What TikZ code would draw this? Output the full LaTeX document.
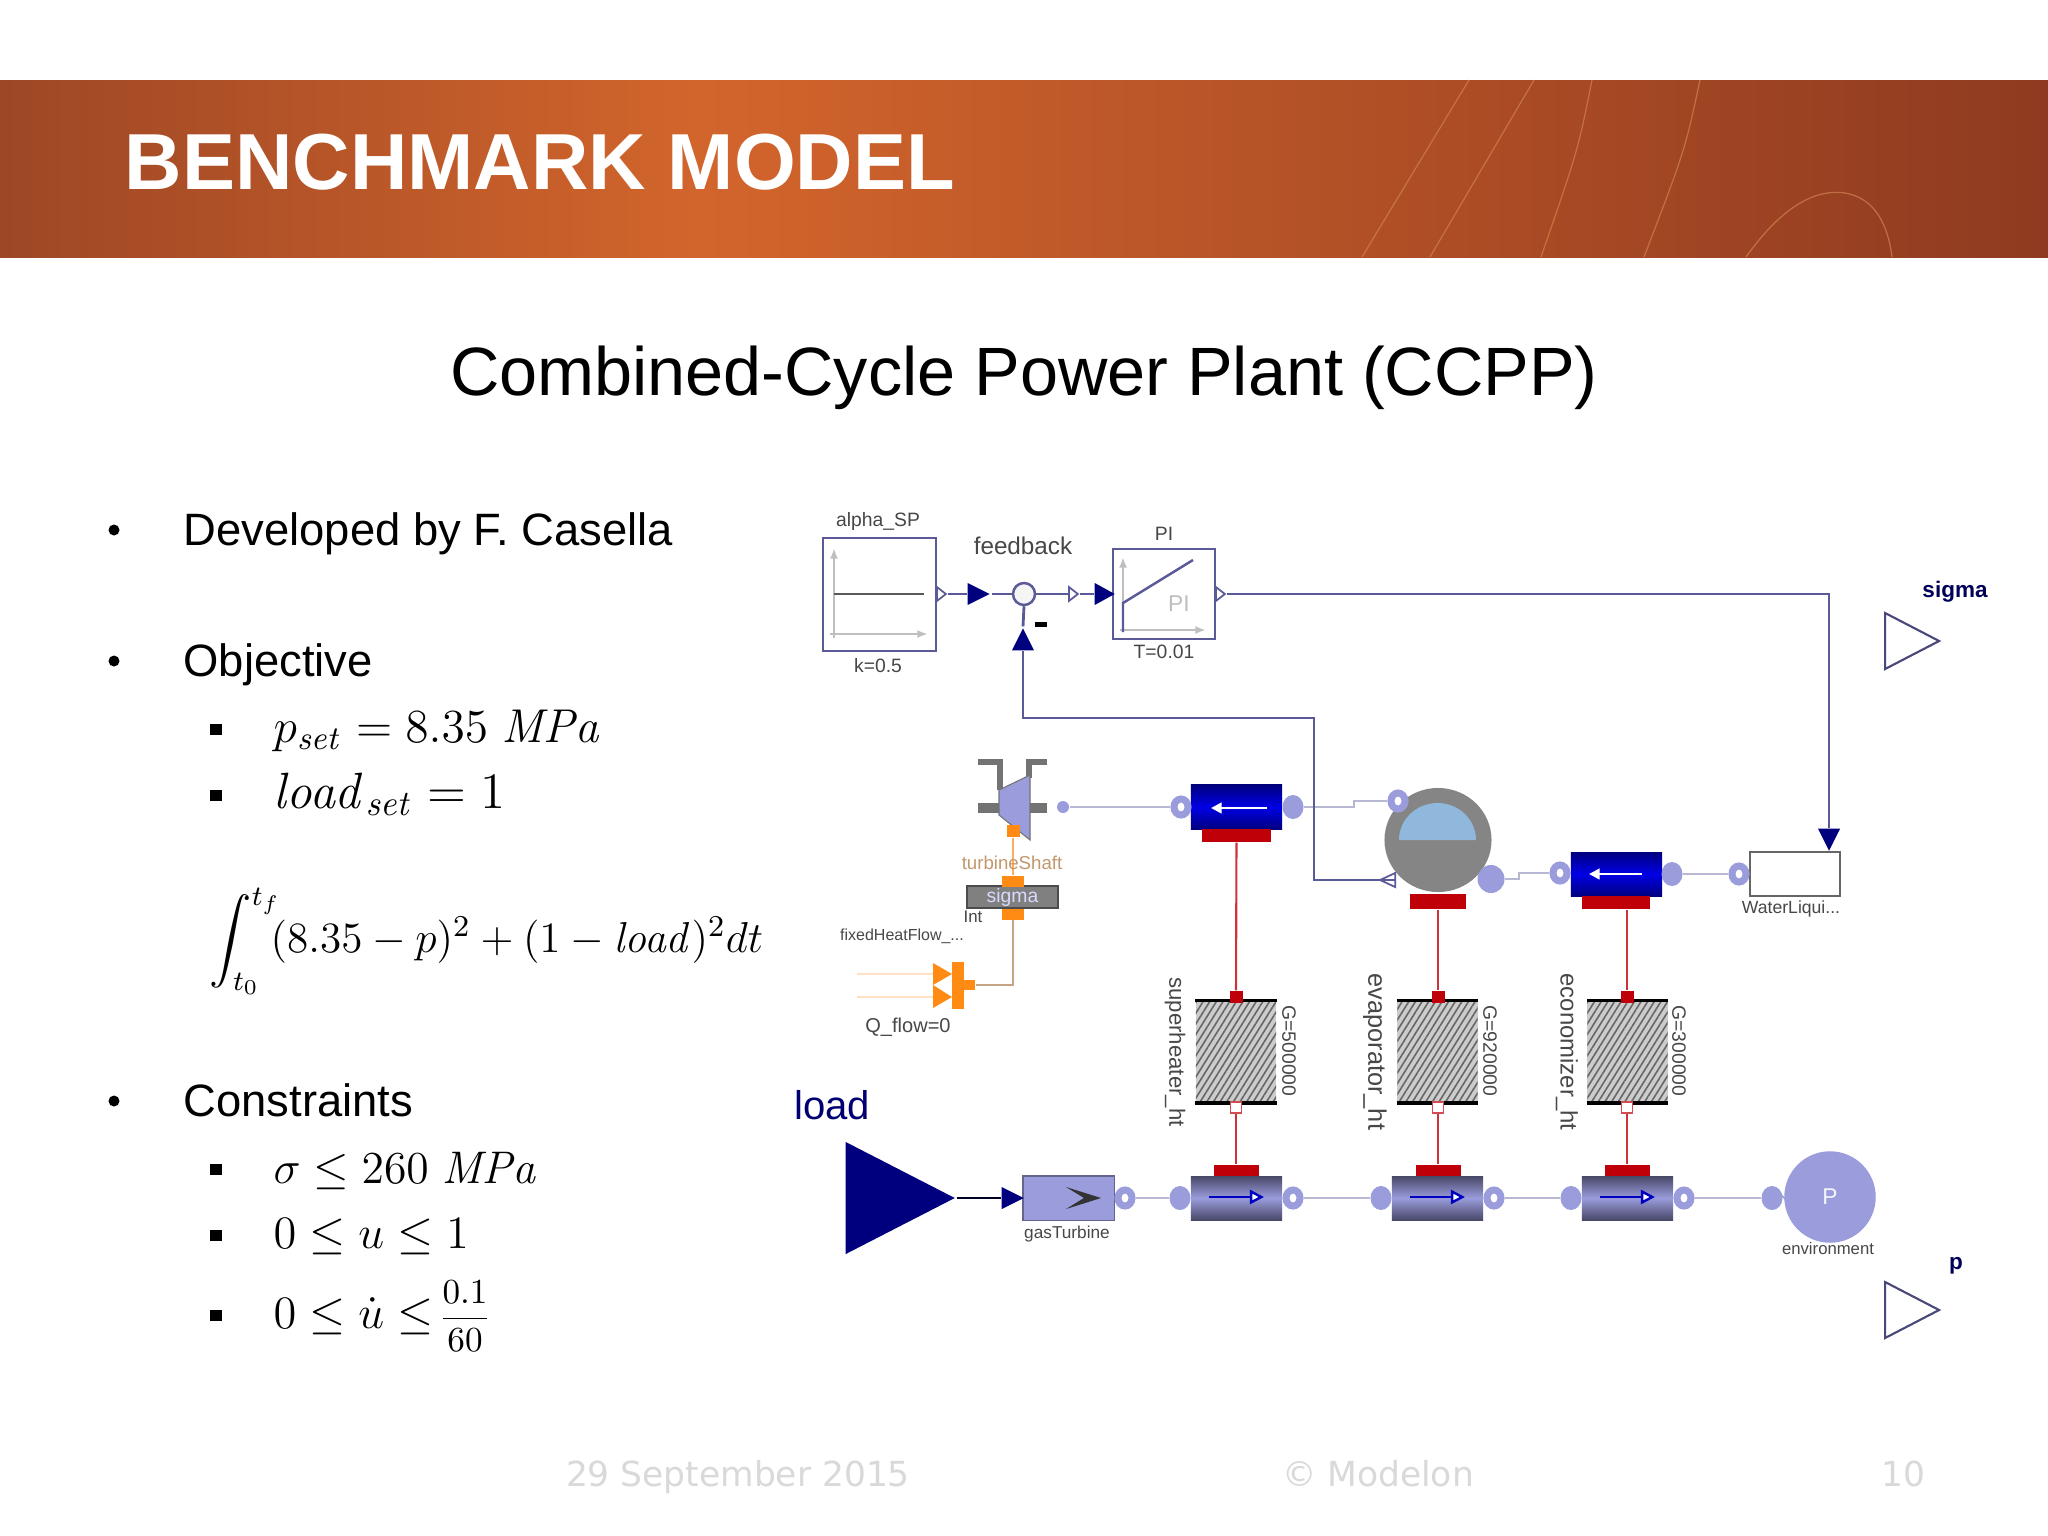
\documentclass[tikz,border=0pt]{standalone}
\usepackage{fix-cm}
\usepackage[no-math]{fontspec}
\usepackage{amsmath,amssymb}
\setmainfont{Liberation Sans}
\newfontfamily\footfont{DejaVu Sans}
\usetikzlibrary{positioning, calc, arrows.meta, shapes.geometric, patterns.meta}

\definecolor{bannerEdge}{HTML}{9E4725}
\definecolor{bannerMid}{HTML}{D2652C}
\definecolor{bannerEnd}{HTML}{8F3A20}
\definecolor{bannerLine}{HTML}{CE7E50}
\definecolor{navy}{HTML}{00007F}
\definecolor{portBlue}{HTML}{9A9CDC}
\definecolor{pipeEdge}{HTML}{484868}
\definecolor{wireBlue}{HTML}{5A5A98}
\definecolor{fluidLine}{HTML}{B8B8D4}
\definecolor{heatRed}{HTML}{C00008}
\definecolor{hotOrange}{HTML}{FF8A14}
\definecolor{footGrey}{HTML}{D9D9D9}
\definecolor{drumWater}{HTML}{90B8DC}

\newcommand{\fs}[1]{\fontsize{#1}{#1}\selectfont}

\tikzset{
    tag/.style={inner sep=0pt, text=black!72, font=\fs{5.5}},
    dotbullet/.style={circle, fill=black, inner sep=0pt, minimum size=0.11cm},
    sqbullet/.style={rectangle, fill=black, inner sep=0pt, minimum size=0.11cm},
    bodytext/.style={anchor=base west, inner sep=0pt, font=\fs{12.9}},
    mathtext/.style={anchor=base west, inner sep=0pt},
    footer/.style={anchor=base, inner sep=0pt, text=footGrey, font=\footfont\fs{9.8}},
    bannerarc/.style={bannerLine, line width=0.35pt, opacity=0.75},
    tri/.style={isosceles triangle, isosceles triangle stretches, inner sep=0pt, anchor=lower side},
    intri/.style={tri, fill=navy, minimum width=0.22cm, minimum height=0.22cm},
    outtri/.style={tri, draw=wireBlue, fill=white, line width=0.5pt, minimum width=0.14cm, minimum height=0.09cm},
    bigtri/.style={tri, draw=wireBlue!80!black, fill=white, line width=0.6pt, minimum width=0.56cm, minimum height=0.54cm},
    blockbox/.style={rectangle, draw=wireBlue, fill=white, line width=0.7pt, inner sep=0pt},
    wire/.style={wireBlue, line width=0.8pt},
    fluid/.style={fluidLine, line width=0.7pt},
    redwire/.style={heatRed!80, line width=0.6pt},
    portfull/.style={ellipse, fill=portBlue, inner sep=0pt, minimum width=0.21cm, minimum height=0.24cm},
    portring/.style={ellipse, draw=portBlue, fill=white, line width=2pt, inner sep=0pt, minimum width=0.14cm, minimum height=0.16cm},
    hxblue/.style={rectangle, inner sep=0pt, top color=navy, bottom color=navy, middle color=blue!90!black, minimum width=0.91cm, minimum height=0.44cm},
    pipe/.style={rectangle, inner sep=0pt, top color=pipeEdge, bottom color=pipeEdge, middle color=portBlue, minimum width=0.91cm, minimum height=0.44cm},
    redblock/.style={rectangle, fill=heatRed, inner sep=0pt},
    orangeport/.style={rectangle, fill=hotOrange, inner sep=0pt},
    wall/.style={rectangle, inner sep=0pt, fill=black!20, minimum width=0.80cm, minimum height=1.01cm,
        postaction={pattern={Lines[angle=58, distance=1.6pt, line width=0.45pt]}, pattern color=black!60}},
}

\begin{document}
\begin{tikzpicture}[x=0.01cm, y=-0.01cm]
    \useasboundingbox (0,0) rectangle (2048,1536);
    \fill[white] (0,0) rectangle (2048,1536);

    % ---------------- BANNER ----------------
    \shade[left color=bannerEdge, right color=bannerMid] (0,80) rectangle (700,257);
    \shade[left color=bannerMid, right color=bannerEnd] (700,80) rectangle (2048,257);
    \draw[bannerarc] (1469,80) -- (1362,257);
    \draw[bannerarc] (1534,80) -- (1430,257);
    \draw[bannerarc] (1592,80) .. controls (1578,150) .. (1541,257);
    \draw[bannerarc] (1700,80) .. controls (1685,150) .. (1644,257);
    \draw[bannerarc] (1746,257) .. controls (1790,195) and (1825,190) .. (1845,193) .. controls (1875,198) and (1888,225) .. (1892,257);
    \node[inner sep=0pt, text=white, font=\fs{22.6}\bfseries] (title) at (540,162) {BENCHMARK MODEL};
    \node[inner sep=0pt, font=\fs{19.45}] (subtitle) at (1024,378) {Combined-Cycle Power Plant (CCPP)};

    % ---------------- LEFT TEXT ----------------
    \node[dotbullet] (b1) at (114,530) {}; \node[bodytext] (t1) at (183,545) {Developed by F. Casella};
    \node[dotbullet] (b2) at (114,661) {}; \node[bodytext] (t2) at (183,676) {Objective};
    \node[dotbullet] (b3) at (114,1101) {}; \node[bodytext] (t3) at (183,1116) {Constraints};

    \node[sqbullet] (s1) at (216,729) {}; \node[mathtext, font=\fs{13.5}] (m1) at (273,742) {$p_{\mathit{set}} = 8.35\ \mathit{MPa}$};
    \node[sqbullet] (s2) at (216,795) {}; \node[mathtext, font=\fs{14.5}] (m2) at (273,808) {$\mathit{load}_{\mathit{set}} = 1$};
    \node[sqbullet] (s3) at (216,1169) {}; \node[mathtext, font=\fs{13}] (m3) at (273,1183) {$\sigma \leq 260\ \mathit{MPa}$};
    \node[sqbullet] (s4) at (216,1235) {}; \node[mathtext, font=\fs{13.2}] (m4) at (273,1248) {$0 \leq u \leq 1$};
    \node[sqbullet] (s5) at (216,1315) {}; \node[mathtext, font=\fs{13.2}] (m5) at (273,1328) {$0 \leq \dot{u} \leq$};
    \node[inner sep=0pt, font=\fs{10}] (m5frac) at (465,1316) {$\dfrac{0.1}{60}$};
    \node[mathtext, font=\fs{12}] (m6sign) at (209,952) {$\displaystyle\int_{t_0}^{t_f}$};
    \node[mathtext, font=\fs{12.3}] (m6) at (270,952) {$(8.35 - p)^2 + (1 - \mathit{load})^2 dt$};

    % ---------------- CONTROL LOOP ----------------
    \node[blockbox, minimum width=1.13cm, minimum height=1.13cm] (alpha) at (879.5,594.5) {};
    \node[tag] (alphaName) at (878,521) {alpha\_SP};
    \node[tag] (alphaK) at (878,666) {k=0.5};
    \draw[black!25, line width=0.7pt, -{Latex[length=3pt]}] (834,638) -- (834,548);
    \draw[black!25, line width=0.7pt, -{Latex[length=3pt]}] (830,634) -- (928,634);
    \draw[black!65, line width=0.8pt] (834,594) -- (924,594);

    \node[blockbox, minimum width=1.02cm, minimum height=0.90cm] (pi) at (1164,594) {};
    \node[tag] (piName) at (1164,534) {PI};
    \node[tag] (piT) at (1164,652) {T=0.01};
    \draw[black!25, line width=0.7pt, -{Latex[length=3pt]}] (1123,632) -- (1123,557);
    \draw[black!25, line width=0.7pt, -{Latex[length=3pt]}] (1120,630) -- (1206,630);
    \draw[wireBlue, line width=0.7pt] (1123,632) -- (1123,603) -- (1193,560);
    \node[tag, text=black!25, font=\fs{6.5}] (piText) at (1179,604) {PI};

    \node[circle, draw=wireBlue, fill=black!4, line width=0.7pt, inner sep=0pt, minimum size=0.22cm] (fb) at (1024,594) {};
    \node[tag, font=\fs{6.9}] (fbName) at (1023,546) {feedback};
    \node[inner sep=0pt, rectangle, fill=black, minimum width=0.12cm, minimum height=0.05cm] (fbMinus) at (1041,624) {};

    \node[outtri] (alphaOut) at (936,594) {};
    \node[intri] (fbIn1) at (967,594) {};
    \node[outtri] (fbOut) at (1068,594) {};
    \node[intri, minimum height=0.20cm] (piIn) at (1094,594) {};
    \node[outtri] (piOut) at (1215,594) {};
    \node[intri, shape border rotate=90] (fbIn2) at (1023,651) {};

    \draw[wire] (alphaOut.apex) -- (fbIn1.lower side);
    \draw[wire] (fbIn1.apex) -- (fb.west);
    \draw[wire] (fb.east) -- (fbOut.lower side);
    \draw[wire] (fbOut.apex) -- (piIn.lower side);

    % ---------------- TURBINE ----------------
    \fill[black!55] (978,803) rectangle (1047,813);
    \draw[black!55, line width=1.6pt] (978,762) -- (1000,762) -- (1000,790);
    \draw[black!55, line width=1.6pt] (1047,762) -- (1029,762) -- (1029,778);
    \fill[portBlue, draw=black!55, line width=0.3pt] (999,790) -- (1030,775) -- (1030,840) -- (999,815) -- cycle;
    \node[circle, fill=portBlue, inner sep=0pt, minimum size=0.12cm] (turbPort) at (1063,807) {};
    \node[orangeport, minimum width=0.13cm, minimum height=0.12cm] (turbShaft) at (1013,831) {};

    \node[rectangle, fill=black!50, draw=black!70, line width=0.4pt, inner sep=0pt, minimum width=0.91cm, minimum height=0.22cm, text=white!85!blue, font=\fs{5.5}] (sigmaBox) at (1012.5,897) {sigma};
    \node[orangeport, minimum width=0.22cm, minimum height=0.11cm] (sigmaTop) at (1013,881) {};
    \node[orangeport, minimum width=0.22cm, minimum height=0.11cm] (sigmaBot) at (1013,914) {};
    \draw[hotOrange!70, line width=0.7pt] (turbShaft) -- (sigmaTop);
    \node[tag, text=hotOrange!60!black!60, font=\fs{5.3}] (shaftName) at (1012,863) {turbineShaft};
    \node[tag, font=\fs{4.8}] (intName) at (973,917) {Int};

    % ---------------- FIXED HEAT FLOW ----------------
    \draw[hotOrange!25, line width=0.8pt] (857,974) -- (935,974);
    \draw[hotOrange!25, line width=0.8pt] (857,997) -- (935,997);
    \fill[hotOrange] (933,963) -- (952,974) -- (933,985) -- cycle;
    \fill[hotOrange] (933,985) -- (952,997) -- (933,1008) -- cycle;
    \node[orangeport, minimum width=0.12cm, minimum height=0.47cm] (flowBar) at (958,985.5) {};
    \node[orangeport, minimum width=0.11cm, minimum height=0.10cm] (flowPort) at (969.5,985) {};
    \draw[hotOrange!55!black!50, line width=0.7pt] (flowPort.east) -| (sigmaBot.south);
    \node[tag, font=\fs{4.55}] (flowName) at (902,936) {fixedHeatFlow\_...};
    \node[tag, font=\fs{5.7}] (flowQ) at (908,1027) {Q\_flow=0};

    % ---------------- UPPER FLUID PATH ----------------
    \node[hxblue] (shHx) at (1236.5,807) {};
    \node[redblock, minimum width=0.69cm, minimum height=0.13cm] (shHxRed) at (1236.5,835.5) {};
    \node[portring] (shHxIn) at (1181,807) {};
    \node[portfull] (shHxOut) at (1293,807) {};
    \draw[white, line width=0.7pt, -{Triangle[length=3pt,width=3pt]}] (1267,808) -- (1211,808);

    \node[ellipse, fill=black!48, inner sep=0pt, minimum width=1.07cm, minimum height=1.04cm] (drum) at (1438,840) {};
    \fill[drumWater] (1399,840) arc[start angle=180, end angle=360, x radius=38.5, y radius=37] -- cycle;
    \node[redblock, minimum width=0.56cm, minimum height=0.15cm] (drumRed) at (1438,901.5) {};
    \node[portring] (drumIn) at (1398,801) {};
    \node[portfull, minimum width=0.27cm, minimum height=0.28cm] (drumOut) at (1491,879) {};
    \node[tri, draw=wireBlue, fill=white, line width=0.5pt, minimum width=0.14cm, minimum height=0.15cm, shape border rotate=180] (drumSet) at (1396,880) {};

    \node[hxblue] (ecHx) at (1616.5,874) {};
    \node[redblock, minimum width=0.68cm, minimum height=0.13cm] (ecHxRed) at (1616,902.5) {};
    \node[portring] (ecHxIn) at (1560,873) {};
    \node[portfull] (ecHxOut) at (1672,874) {};
    \draw[white, line width=0.7pt, -{Triangle[length=3pt,width=3pt]}] (1642,874) -- (1589,874);

    \node[rectangle, draw=black!60, fill=white, line width=0.6pt, inner sep=0pt, minimum width=0.90cm, minimum height=0.44cm] (water) at (1795,874) {};
    \node[portring] (waterIn) at (1739,874) {};
    \node[tag, font=\fs{5}] (waterName) at (1791,909) {WaterLiqui...};

    \draw[fluid] (turbPort) -- (shHxIn);
    \draw[fluid] (shHxOut.east) -- ++(50,0) |- (drumIn.west);
    \draw[fluid] (drumOut.east) -- ++(14,0) |- (ecHxIn.west);
    \draw[fluid] (ecHxOut.east) -- (waterIn.west);

    % ---------------- WIRES TO THE SIGNALS ----------------
    \node[intri, shape border rotate=-90] (waterSet) at (1829,828) {};
    \draw[wire] (piOut.apex) -| (waterSet.lower side);
    \coordinate (fbCorner) at (1314,718);
    \draw[wire] (fbIn2.lower side) |- (fbCorner) |- (drumSet.lower side);
    \draw[wire] (fb.south) -- (fbIn2.apex);

    % ---------------- WALLS AND PIPES ----------------
    \foreach \nm/\x/\wx/\pipex/\lab/\labsize/\gv/\lx/\gx in {sh/1236/1236/1191/superheater\_ht/6.3/G=500000/1175/1289,
                                                            ev/1437.5/1438/1392/evaporator\_ht/7.2/G=920000/1375/1490,
                                                            ec/1627.5/1627/1582/economizer\_ht/6.8/G=300000/1567/1679}{
        \node[wall] (\nm Wall) at (\x,1051.5) {};
        \draw[black, line width=1pt] (\nm Wall.north west) -- (\nm Wall.north east);
        \draw[black, line width=1pt] (\nm Wall.south west) -- (\nm Wall.south east);
        \node[redblock, minimum width=0.13cm, minimum height=0.12cm] (\nm Top) at (\wx,997) {};
        \node[rectangle, draw=heatRed!70, fill=white, line width=0.4pt, inner sep=0pt, minimum width=0.11cm, minimum height=0.11cm] (\nm Bot) at (\wx,1107.5) {};
        \node[redblock, minimum width=0.45cm, minimum height=0.11cm] (\nm PipeRed) at (\wx,1170.5) {};
        \node[pipe] (\nm Pipe) at (\pipex+45.5,1198) {};
        \draw[redwire] (\nm Bot) -- (\nm PipeRed);
        \draw[blue!75!black, line width=0.7pt, -{Triangle[open, fill=white, length=4pt, width=4pt]}] (\pipex+18,1197) -- (\pipex+73,1197);
        \node[portfull] (\nm PipeIn) at (\pipex-11,1198) {};
        \node[portring] (\nm PipeOut) at (\pipex+102,1198) {};
        \node[tag, rotate=-90, font=\fs{\labsize}] (\nm Name) at (\lx,1052) {\lab};
        \node[tag, rotate=-90] (\nm G) at (\gx,1051) {\gv};
    }
    \draw[redwire] (shHxRed) -- (shTop);
    \draw[redwire] (drumRed) -- (evTop);
    \draw[redwire] (ecTop.north) -- (ecTop.north |- ecHxRed.south);

    % ---------------- LOWER FLUID PATH ----------------
    \node[tri, fill=navy, minimum width=1.12cm, minimum height=1.09cm] (loadTri) at (845,1198) {};
    \node[tag, text=navy!90!black, font=\fs{11.4}] (loadName) at (832,1105) {load};
    \node[rectangle, fill=portBlue, draw=black!35!portBlue, line width=0.3pt, inner sep=0pt, minimum width=0.91cm, minimum height=0.44cm] (gasT) at (1068.5,1198) {};
    \fill[black!80] (1066,1187) -- (1101,1198) -- (1066,1209) -- (1084,1198) -- cycle;
    \node[intri] (gasIn) at (1001,1198) {};
    \node[portring] (gasOut) at (1125,1198) {};
    \node[tag, font=\fs{4.9}] (gasName) at (1067,1234) {gasTurbine};
    \draw[wire, black!70!navy] (loadTri.apex) -- (gasIn.lower side);

    \node[circle, fill=portBlue, draw=portBlue, inner sep=0pt, minimum size=0.90cm, text=white!90!portBlue, font=\fs{6.5}] (env) at (1830,1197) {P};
    \node[portfull] (envIn) at (1772,1198) {};
    \node[tag, font=\fs{4.75}] (envName) at (1828,1249) {environment};

    \draw[fluid] (gasOut.east) -- (shPipeIn.west);
    \draw[fluid] (shPipeOut.east) -- (evPipeIn.west);
    \draw[fluid] (evPipeOut.east) -- (ecPipeIn.west);
    \draw[fluid] (ecPipeOut.east) -- (envIn.west);
    \draw[portBlue, line width=2pt] (envIn.east) -- (env.west);

    % ---------------- OUTPUT SIGNALS ----------------
    \node[bigtri] (sigmaOut) at (1884,641) {};
    \node[tag, text=navy!70!black, font=\fs{6.4}\bfseries] (sigmaName) at (1955,592) {sigma};
    \node[bigtri] (pOut) at (1884,1310) {};
    \node[tag, text=navy!70!black, font=\fs{6.4}\bfseries] (pName) at (1956,1266) {p};

    % ---------------- FOOTER ----------------
    \node[footer] (footDate) at (738,1486) {29 September 2015};
    \node[footer] (footName) at (1378,1486) {© Modelon};
    \node[footer] (footPage) at (1903,1486) {10};
\end{tikzpicture}
\end{document}
